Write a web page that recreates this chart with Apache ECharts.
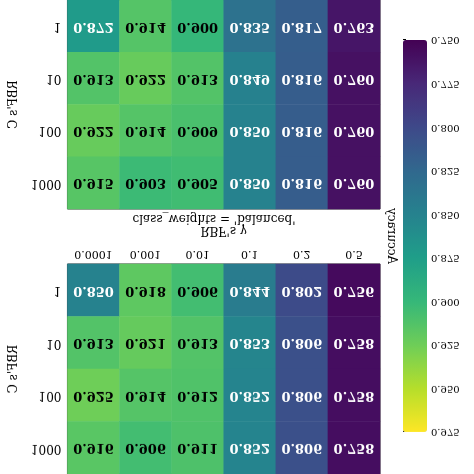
<!DOCTYPE html><html><head><meta charset="utf-8">
<script src="https://cdn.jsdelivr.net/npm/echarts@6/dist/echarts.min.js"></script>
<style>html,body{margin:0;padding:0;background:#fff}#c{width:474px;height:474px;transform:scaleY(-1)}</style>
</head><body><div id="c"></div><script>
const gammas=['0.0001','0.001','0.01','0.1','0.2','0.5'];
const Cs=['1','10','100','1000'];
const ticksCbar=[0.75,0.775,0.8,0.825,0.85,0.875,0.9,0.925,0.95,0.975];
// panel with gamma labels (rows by C: 1,10,100,1000)
const accA=[[0.850,0.918,0.906,0.844,0.802,0.756],[0.913,0.921,0.913,0.853,0.806,0.758],[0.925,0.914,0.912,0.852,0.806,0.758],[0.916,0.906,0.911,0.852,0.806,0.758]];
// panel class_weights='balanced'
const accB=[[0.872,0.914,0.900,0.835,0.817,0.763],[0.913,0.922,0.913,0.849,0.816,0.760],[0.922,0.914,0.909,0.850,0.816,0.760],[0.915,0.903,0.905,0.850,0.816,0.760]];
const viridis=['#440154','#482878','#3e4989','#31688e','#26828e','#1f9e89','#35b779','#6ece58','#b5de2b','#fde725'];
function toData(a){const d=[];a.forEach((r,i)=>r.forEach((v,j)=>d.push({value:[j,i,v],label:{color:v>0.89?'#000':'#fff'}})));return d;}
const F='DejaVu Serif';
const yAx=(gi)=>({type:'category',data:Cs,gridIndex:gi,axisLine:{show:false},axisTick:{length:4,lineStyle:{color:'#000'}},axisLabel:{fontFamily:F,fontSize:12,color:'#000',margin:6},splitArea:{show:false}});
const ch=echarts.init(document.getElementById('c'));
ch.setOption({animation:false,
grid:[{left:48,top:-13,width:332,height:223,show:true,borderColor:'#333',borderWidth:1},
{left:48,top:265,width:332,height:223,show:true,borderColor:'#333',borderWidth:1},
{left:403,top:42,width:24,height:392}],
title:{text:"class_weights = 'balanced'",left:214,top:250,textAlign:'center',padding:0,textStyle:{fontFamily:F,fontSize:12,fontWeight:'normal',color:'#000'}},
xAxis:[{type:'category',data:gammas,gridIndex:0,position:'bottom',name:"RBF's γ",nameLocation:'middle',nameGap:28,nameTextStyle:{fontFamily:F,fontSize:12,color:'#000'},axisLine:{show:false},axisTick:{length:4,alignWithLabel:true,lineStyle:{color:'#000'}},axisLabel:{fontFamily:F,fontSize:11,color:'#000',margin:5}},
{type:'category',data:gammas,gridIndex:1,show:false},
{type:'value',gridIndex:2,show:false,min:0,max:1}],
yAxis:[Object.assign(yAx(0),{name:"RBF's C",nameLocation:'middle',nameGap:33,nameTextStyle:{fontFamily:F,fontSize:12,color:'#000'}}),
Object.assign(yAx(1),{name:"RBF's C",nameLocation:'middle',nameGap:33,nameTextStyle:{fontFamily:F,fontSize:12,color:'#000'}}),
{type:'value',gridIndex:2,position:'right',min:0.75,max:0.975,interval:0.025,axisLine:{show:false},splitLine:{show:false},axisTick:{show:true,length:3,lineStyle:{color:'#000'}},axisLabel:{fontFamily:F,fontSize:10,color:'#000',margin:4,formatter:v=>v.toFixed(3)},name:'Accuracy',nameLocation:'middle',nameGap:-42,nameRotate:-90,nameTextStyle:{fontFamily:F,fontSize:12,color:'#000'}}],
visualMap:{type:'continuous',min:0.75,max:0.975,seriesIndex:[0,1],inRange:{color:viridis},left:403,top:42,padding:0,itemWidth:24,itemHeight:392,calculable:false,text:['',''],showLabel:false,orient:'vertical'},
series:[{type:'heatmap',xAxisIndex:0,yAxisIndex:0,data:toData(accA),label:{show:true,fontFamily:F,fontSize:13,fontWeight:'bold',formatter:p=>p.value[2].toFixed(3)}},
{type:'heatmap',xAxisIndex:1,yAxisIndex:1,data:toData(accB),label:{show:true,fontFamily:F,fontSize:13,fontWeight:'bold',formatter:p=>p.value[2].toFixed(3)}},
{type:'scatter',xAxisIndex:2,yAxisIndex:2,data:ticksCbar.map(v=>[0,v]),symbolSize:0,silent:true}]
});
</script></body></html>
